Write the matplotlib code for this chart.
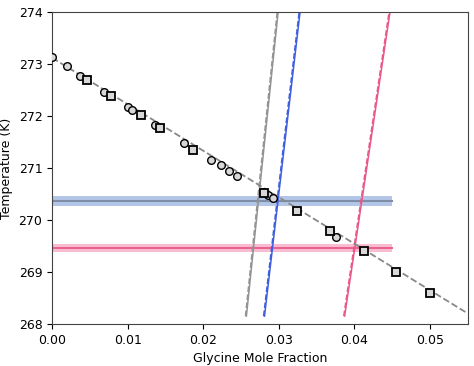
import matplotlib.pyplot as plt
import numpy as np

# freezing point data
circ_x = [0.0, 0.0019, 0.0037, 0.0069, 0.0100, 0.0106, 0.0136, 0.0174, 0.0210, 0.0224, 0.0234, 0.0245, 0.0279, 0.0285, 0.0292, 0.0375]
circ_y = [273.13, 272.96, 272.77, 272.46, 272.17, 272.12, 271.83, 271.48, 271.15, 271.06, 270.94, 270.85, 270.54, 270.48, 270.42, 269.67]
sq_x = [0.0046, 0.0078, 0.0117, 0.0143, 0.0187, 0.0280, 0.0324, 0.0368, 0.0412, 0.0455, 0.0500]
sq_y = [272.69, 272.38, 272.02, 271.77, 271.35, 270.52, 270.17, 269.79, 269.40, 269.00, 268.60]

# linear fit line
fit_x = [0.0, 0.055]
fit_y = [273.12, 268.20]

# horizontal bands (mean, half width, extent)
blue_T, blue_err = 270.36, 0.1
pink_T, pink_err = 269.46, 0.08
band_x = [0.0, 0.045]

# steep lines: (x at bottom, x at top), T range
steep_T = [268.15, 274.0]
grey_x = [0.0257, 0.0299]
blue_x = [0.0281, 0.0328]
pink_x = [0.0387, 0.0447]

fig, ax = plt.subplots(figsize=(4.74, 3.66), dpi=100)
fig.subplots_adjust(left=0.11, right=0.987, bottom=0.115, top=0.967)

# bands
ax.fill_between(band_x, blue_T - blue_err, blue_T + blue_err, color='#b4c6e8', lw=0)
ax.plot(band_x, [blue_T, blue_T], color='#7d8ea6', lw=1.5)
ax.fill_between(band_x, pink_T - pink_err, pink_T + pink_err, color='#f9bcd2', lw=0)
ax.plot(band_x, [pink_T, pink_T], color='#e8648e', lw=1.5)

# steep lines (solid + dashed overlay)
for xs, c in [(grey_x, '#939393'), (blue_x, '#3f5fe0'), (pink_x, '#ea5888')]:
    ax.plot(xs, steep_T, color=c, lw=1.1)
    ax.plot([x - 0.00012 for x in xs], steep_T, color=c, lw=1.1, ls='--')

# fit line
ax.plot(fit_x, fit_y, color='#888888', lw=1.3, ls='--', zorder=3)

# data
ax.plot(circ_x, circ_y, 'o', ms=5.5, mfc='#d8d8d8', mec='black', mew=1.0, zorder=4)
ax.plot(sq_x, sq_y, 's', ms=5.5, mfc='#d8d8d8', mec='black', mew=1.3, zorder=4)

ax.set_xlim(0, 0.055)
ax.set_ylim(268, 274)
ax.set_xticks([0.0, 0.01, 0.02, 0.03, 0.04, 0.05])
ax.set_xticklabels(['0.00', '0.01', '0.02', '0.03', '0.04', '0.05'])
ax.set_yticks(range(268, 275))
ax.tick_params(labelsize=9)
for s in ax.spines.values():
    s.set_color('#444444')
ax.set_xlabel('Glycine Mole Fraction', fontsize=9)
ax.set_ylabel('Temperature (K)', fontsize=9)

plt.savefig('out.png')
